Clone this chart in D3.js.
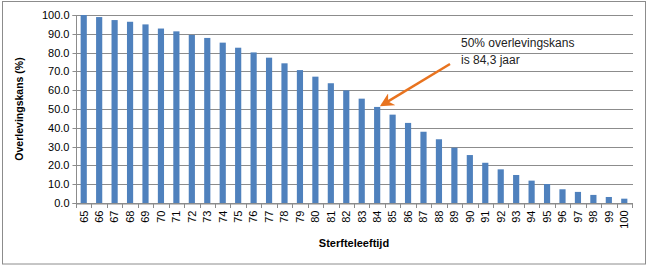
<!DOCTYPE html>
<html><head><meta charset="utf-8">
<script src="https://cdn.jsdelivr.net/npm/d3@7"></script>
<style>body{margin:0;background:#fff}svg{display:block}</style>
</head><body>
<svg id="c" width="648" height="267"></svg>
<script>
const ages = [65,66,67,68,69,70,71,72,73,74,75,76,77,78,79,80,81,82,83,84,85,86,87,88,89,90,91,92,93,94,95,96,97,98,99,100];
const survival = [100.0,98.9,97.3,96.4,95.0,92.8,91.3,89.4,87.8,85.3,82.6,80.1,77.3,74.3,70.7,67.2,63.7,59.9,55.5,51.1,47.0,42.6,37.9,33.9,29.4,25.5,21.4,17.9,14.9,11.9,10.1,7.3,5.9,4.3,3.2,2.3];
const yTicks = [0,10,20,30,40,50,60,70,80,90,100];
const annotationLines = ["50% overlevingskans","is 84,3 jaar"];
const annotatedAge = 84;

(function(){
const svg = d3.select("#c");
const font = "'Liberation Sans', Arial, sans-serif";
svg.append("rect").attr("x",2.5).attr("y",1.5).attr("width",643).attr("height",262.5)
  .attr("fill","#fff").attr("stroke","#8c8c8c").attr("stroke-width",1);

const pL = 76, pR = 632, pT = 15, pB = 203;
const x = d3.scaleBand().domain(ages).range([pL,pR]).paddingInner(0.6).paddingOuter(0.3);
const y = d3.scaleLinear().domain([0,100]).range([pB,pT]);

svg.append("g").selectAll("line").data(yTicks).join("line")
  .attr("x1",pL).attr("x2",pR+1)
  .attr("y1",d=>Math.round(y(d))+0.5).attr("y2",d=>Math.round(y(d))+0.5)
  .attr("stroke","#8c8c8c").attr("stroke-width",1);

svg.append("g").selectAll("rect").data(ages).join("rect")
  .attr("x",d=>x(d)).attr("width",x.bandwidth())
  .attr("y",(d,i)=>y(survival[i])).attr("height",(d,i)=>pB - y(survival[i]))
  .attr("fill","#4f81bd");

const ya = svg.append("g").attr("transform",`translate(${pL+0.5},0)`)
  .call(d3.axisLeft(y).tickValues(yTicks).tickFormat(d3.format(".1f")).tickSize(4).tickPadding(3));
ya.select(".domain").attr("stroke","#8c8c8c").attr("d",`M-4,${Math.round(pT)+0.5}H0V${pB+0.5}H-4`);
ya.selectAll(".tick line").attr("stroke","#8c8c8c");
ya.selectAll(".tick").attr("transform",d=>`translate(0,${Math.round(y(d))+0.5})`);
ya.selectAll("text").attr("font-family",font).attr("font-size",11).attr("fill","#000");

const xa = svg.append("g").attr("transform",`translate(0,${pB+0.5})`)
  .call(d3.axisBottom(x).tickSize(0).tickPadding(0));
xa.select(".domain").attr("stroke","#8c8c8c");
svg.append("g").selectAll("line").data(d3.range(ages.length+1)).join("line")
  .attr("x1",i=>Math.round(pL + i*(pR-pL)/ages.length)+0.5)
  .attr("x2",i=>Math.round(pL + i*(pR-pL)/ages.length)+0.5)
  .attr("y1",pB).attr("y2",pB+5).attr("stroke","#8c8c8c");
xa.selectAll("text").attr("font-family",font).attr("font-size",11).attr("fill","#000")
  .attr("transform","rotate(-90)").attr("text-anchor","end").attr("dy","0.35em")
  .attr("x",-7).attr("y",0);

svg.append("text").attr("transform","translate(23,109) rotate(-90)")
  .attr("text-anchor","middle").attr("font-family",font).attr("font-size",10.5).attr("font-weight","bold")
  .text("Overlevingskans  (%)");
svg.append("text").attr("x",354).attr("y",247).attr("text-anchor","middle")
  .attr("font-family",font).attr("font-size",11).attr("font-weight","bold").text("Sterfteleeftijd");

const ann = svg.append("text").attr("font-family",font).attr("font-size",12).attr("fill","#222");
annotationLines.forEach((t,i)=>ann.append("tspan").attr("x",461).attr("y",47+i*17).text(t));

const idx = ages.indexOf(annotatedAge);
const tipX = x(annotatedAge)+x.bandwidth()+2, tipY = y(survival[idx]) - 2;
svg.append("defs").append("marker").attr("id","ah").attr("viewBox","0 0 10 10")
  .attr("refX",8).attr("refY",5).attr("markerWidth",5.5).attr("markerHeight",5.5).attr("orient","auto")
  .append("path").attr("d","M0,0L10,5L0,10L3,5z").attr("fill","#e8731f");
svg.append("line").attr("x1",450).attr("y1",64).attr("x2",tipX).attr("y2",tipY)
  .attr("stroke","#e8731f").attr("stroke-width",2.5).attr("marker-end","url(#ah)");
})();
</script>
</body></html>
